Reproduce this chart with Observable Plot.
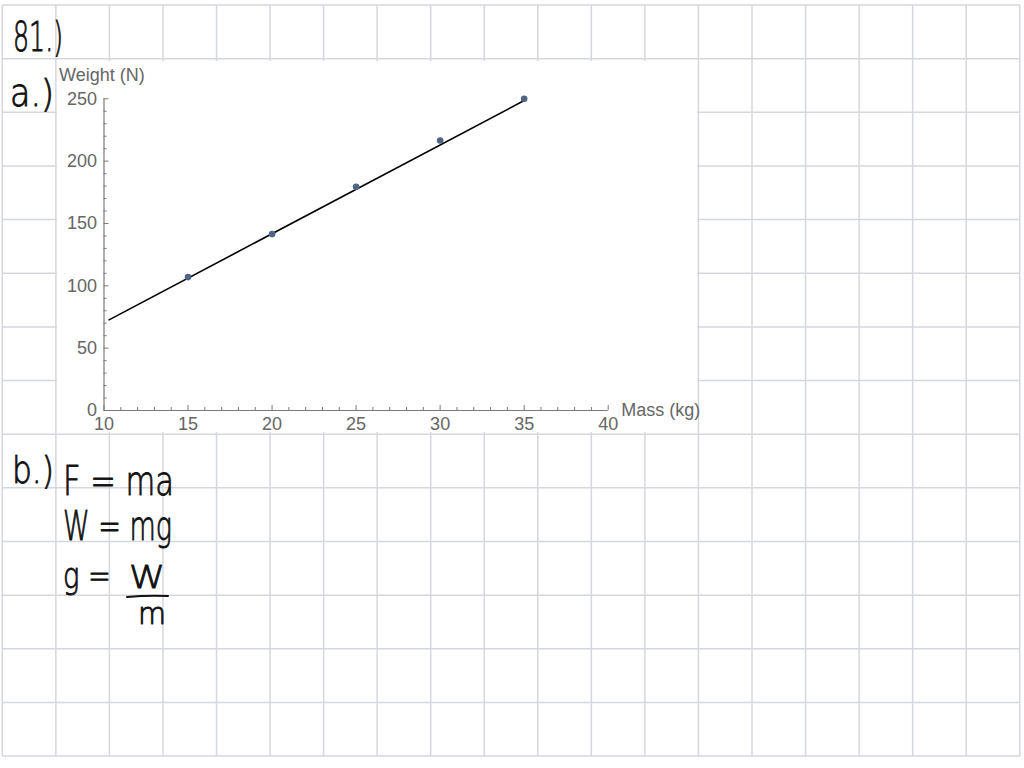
<!DOCTYPE html>
<html>
<head>
<meta charset="utf-8">
<script src="https://cdn.jsdelivr.net/npm/d3@7"></script>
<script src="https://cdn.jsdelivr.net/npm/@observablehq/plot@0.6"></script>
<style>
  html, body { margin: 0; padding: 0; background: #fff; }
  #page { position: relative; width: 1024px; height: 768px; overflow: hidden; background: #fff; }
  #page > svg { position: absolute; left: 0; top: 0; }
</style>
</head>
<body>
<div id="page"></div>
<script>
// ---- chart data ----
const mass = [15, 20, 25, 30, 35];              // kg
const weight = [107, 141.5, 179.5, 216.5, 250];  // N
const lineMass = [10.3, 35];                     // fitted line endpoints
const lineWeight = [72.7, 248.6];
const xMajor = [10, 15, 20, 25, 30, 35, 40];
const xMinor = [11, 12, 13, 14, 16, 17, 18, 19, 21, 22, 23, 24, 26, 27, 28, 29, 31, 32, 33, 34, 36, 37, 38, 39];
const yMajor = [0, 50, 100, 150, 200, 250];
const yMinor = [10, 20, 30, 40, 60, 70, 80, 90, 110, 120, 130, 140, 160, 170, 180, 190, 210, 220, 230, 240];
const xLabel = "Mass (kg)";
const yLabel = "Weight (N)";
// handwritten notes
const notes = [
  {text: "81.)", x: 13, y: 51, len: 50, size: 40},
  {text: "a.)", x: 10, y: 106, len: 44, size: 38},
  {text: "b.)", x: 12, y: 483, len: 42, size: 38},
  {text: "F = ma", x: 63, y: 495, len: 111, size: 40},
  {text: "W = mg", x: 63, y: 540, len: 109, size: 40},
  {text: "g =", x: 63, y: 588, len: 48, size: 36},
  {text: "W", x: 129, y: 588, len: 36, size: 32},
  {text: "m", x: 138, y: 624, len: 28, size: 30}
];

const page = document.getElementById("page");

// ---- paper background: grid, white chart box, handwriting ----
const W = 1024, H = 768;
const bg = d3.create("svg").attr("width", W).attr("height", H);
const gridColor = "#d4d7de";
const xs = d3.range(20).map(i => 2.3 + 53.55 * i);
const ys = d3.range(15).map(j => 5 + 53.65 * j);
bg.append("g").selectAll("line").data(xs).join("line")
  .attr("x1", d => d).attr("x2", d => d).attr("y1", ys[0]).attr("y2", ys[ys.length - 1])
  .attr("stroke", gridColor).attr("stroke-width", 1.5);
bg.append("g").selectAll("line").data(ys).join("line")
  .attr("y1", d => d).attr("y2", d => d).attr("x1", xs[0]).attr("x2", xs[xs.length - 1])
  .attr("stroke", gridColor).attr("stroke-width", 1.5);
bg.append("rect").attr("x", 57).attr("y", 61).attr("width", 640).attr("height", 371).attr("fill", "#fff");
bg.append("g").selectAll("text").data(notes).join("text")
  .attr("x", d => d.x).attr("y", d => d.y)
  .attr("font-family", "DejaVu Sans").attr("font-weight", 200)
  .attr("font-size", d => d.size)
  .attr("textLength", d => d.len).attr("lengthAdjust", "spacingAndGlyphs")
  .attr("fill", "#111").attr("stroke", "#111").attr("stroke-width", 0.9)
  .attr("stroke-linejoin", "round")
  .text(d => d.text);
// fraction bar for g = W / m
bg.append("path").attr("d", "M127,597 Q148,595 168,596").attr("fill", "none")
  .attr("stroke", "#111").attr("stroke-width", 2).attr("stroke-linecap", "round");
page.appendChild(bg.node());

// ---- the chart ----
const axisColor = "#7a7a7a";
const textColor = "#666";
const chart = Plot.plot({
  width: W,
  height: H,
  marginLeft: 103.5,
  marginRight: W - 607.7,
  marginTop: 98.3,
  marginBottom: H - 410,
  style: {background: "transparent", fontFamily: "Liberation Sans, Arial, sans-serif", fontSize: "18px", color: textColor, overflow: "visible"},
  x: {domain: [10, 40]},
  y: {domain: [0, 250]},
  marks: [
    Plot.ruleY([0], {x1: 10, x2: 40, stroke: axisColor, strokeWidth: 1.2}),
    Plot.ruleX([10], {y1: 0, y2: 250, stroke: axisColor, strokeWidth: 1.2}),
    Plot.axisX(xMajor, {tickSize: -5, tickPadding: 12, stroke: axisColor, fill: textColor, label: null, tickFormat: d => String(d)}),
    Plot.axisX(xMinor, {tickSize: -3, tickPadding: 0, stroke: axisColor, label: null, tickFormat: () => ""}),
    Plot.axisY(yMajor, {tickSize: -5, tickPadding: 12, stroke: axisColor, fill: textColor, label: null, tickFormat: d => String(d)}),
    Plot.axisY(yMinor, {tickSize: -3, tickPadding: 0, stroke: axisColor, label: null, tickFormat: () => ""}),
    Plot.text([yLabel], {frameAnchor: "top-left", dx: -45, dy: -24, textAnchor: "start", lineAnchor: "middle", fill: textColor}),
    Plot.text([xLabel], {frameAnchor: "bottom-right", dx: 13, dy: 0, textAnchor: "start", lineAnchor: "middle", fill: textColor}),
    Plot.line(lineMass.map((m, i) => ({m, w: lineWeight[i]})), {x: "m", y: "w", stroke: "#000", strokeWidth: 1.6}),
    Plot.dot(mass.map((m, i) => ({m, w: weight[i]})), {x: "m", y: "w", r: 3.3, fill: "#506486", stroke: "none"})
  ]
});
page.appendChild(chart);
</script>
</body>
</html>
